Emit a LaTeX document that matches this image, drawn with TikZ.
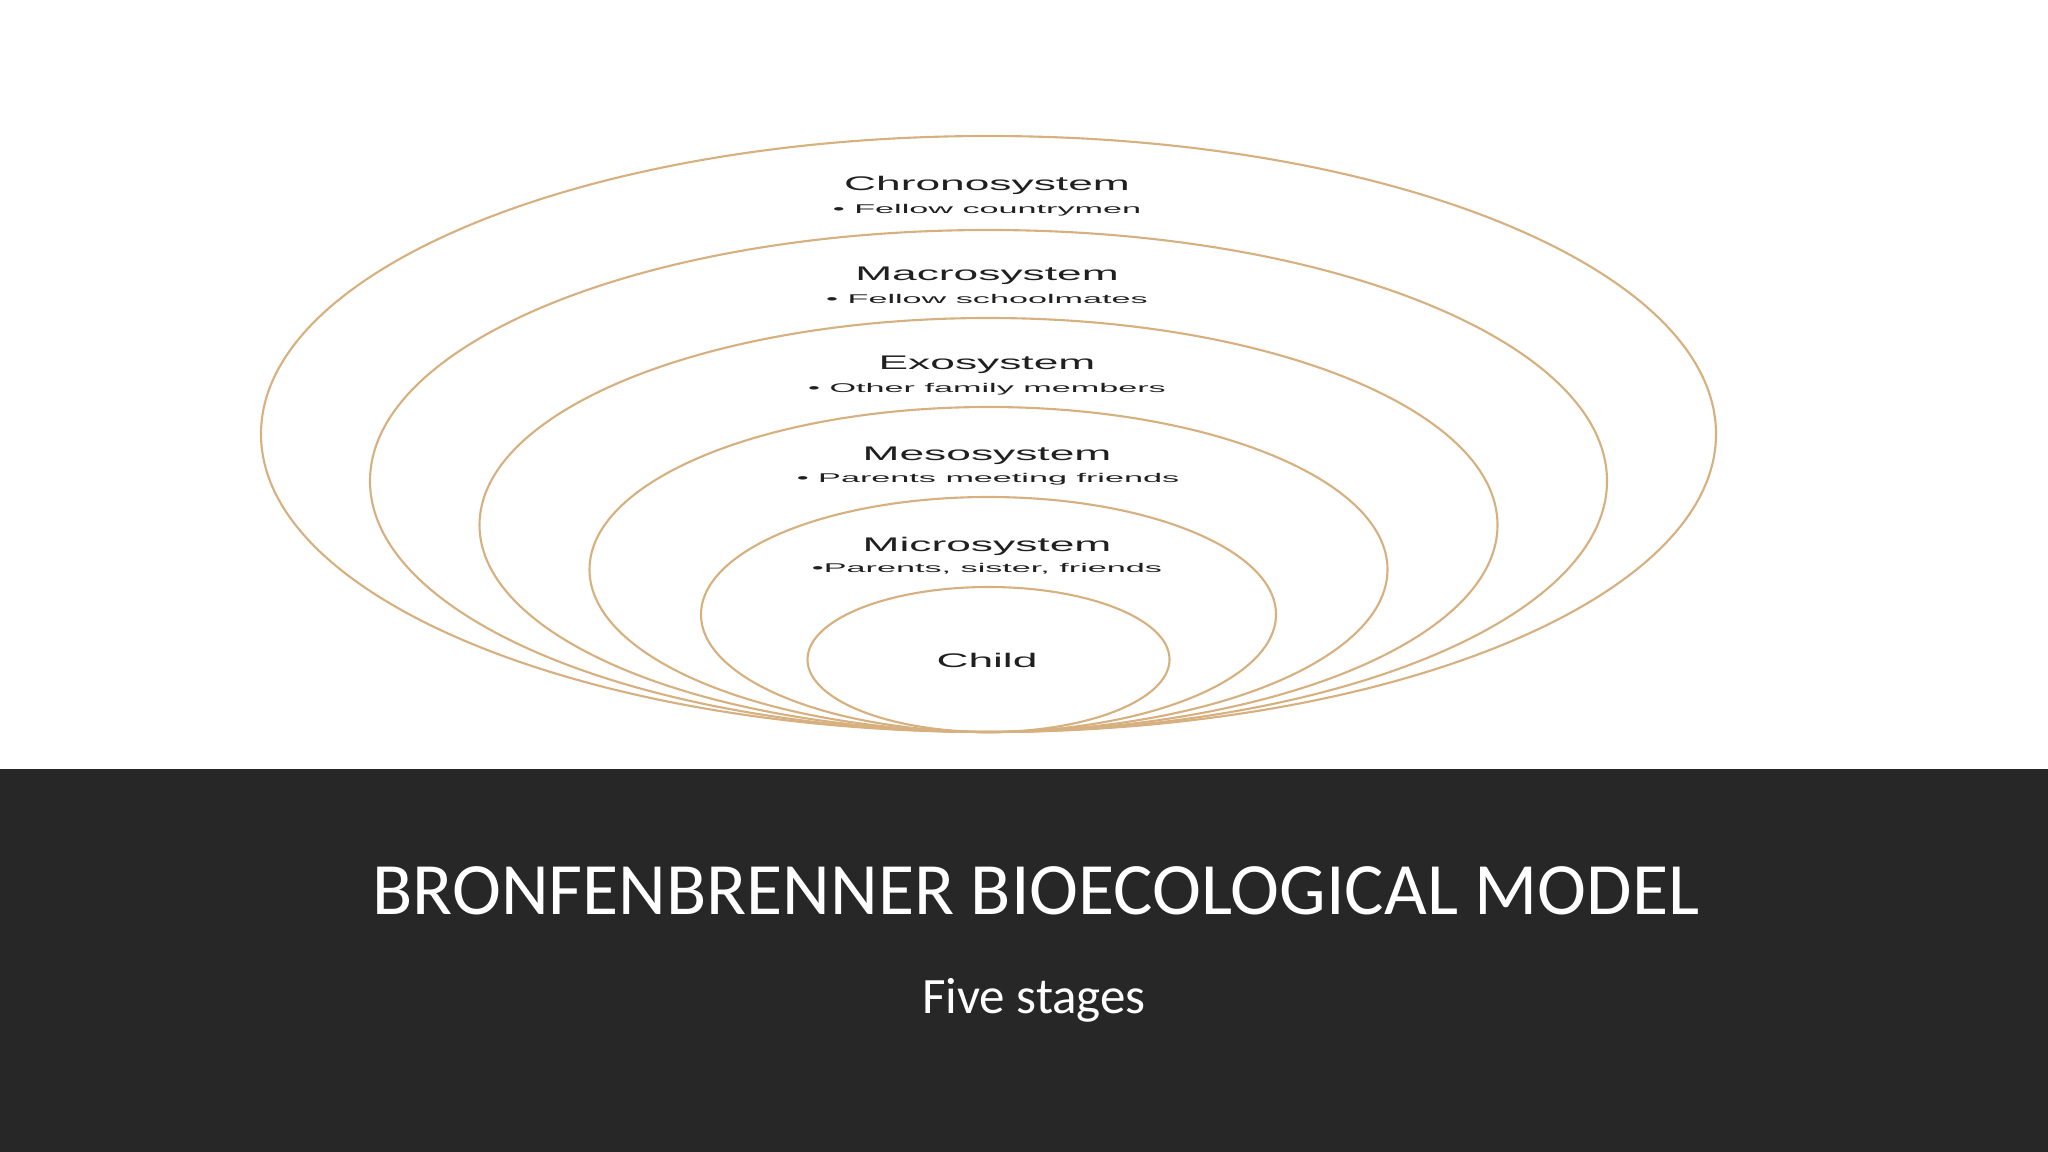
\documentclass[tikz,border=0pt]{standalone}
\usepackage{fontspec}
\newfontfamily\ringfont{Liberation Sans}
\newfontfamily\slidefont{Carlito}
\definecolor{ringline}{RGB}{215,176,128}
\definecolor{ringtext}{RGB}{32,32,32}
\definecolor{slidedark}{RGB}{40,39,40}
\tikzstyle{ring}=[draw=ringline,line width=0.6pt]
\tikzstyle{sysname}=[font=\ringfont\fontsize{5.6}{6}\selectfont,text=ringtext,xscale=2.25,inner sep=0pt,anchor=base]
\tikzstyle{sysnote}=[font=\ringfont\fontsize{3.6}{4}\selectfont,text=ringtext,xscale=2.7,inner sep=0pt,anchor=base]
\tikzstyle{heading}=[font=\slidefont\fontsize{21}{25}\selectfont,text=white,inner sep=0pt,anchor=base]
\tikzstyle{subheading}=[font=\slidefont\fontsize{14.5}{17}\selectfont,text=white,inner sep=0pt,anchor=base]

\begin{document}
\begin{tikzpicture}[x=0.01cm,y=-0.01cm]
    \useasboundingbox (0,0) rectangle (2048,1152);
    \fill[white] (0,0) rectangle (2048,769);
    \fill[slidedark] (0,769) rectangle (2048,1152);

    % rings, all touching at the bottom
    \foreach \rx/\ry in {727.5/298, 618.5/251, 509/207, 399/162.5, 287.5/117.5, 181/72.5}
        \draw[ring] (988.5,{732-\ry}) ellipse [x radius=\rx, y radius=\ry];

    \foreach \pos/\name/\txt in {{(987,191)/chrono/Chronosystem}, {(987,281)/macro/Macrosystem},
                                 {(987,370)/exo/Exosystem}, {(987,461)/meso/Mesosystem},
                                 {(987,551)/micro/Microsystem}, {(987,667)/child/Child}}
        \node[sysname] (\name) at \pos {\txt};
    \foreach \pos/\name/\txt in {{(987,214)/chrononote/{• Fellow countrymen}},
                                 {(987,304)/macronote/{• Fellow schoolmates}},
                                 {(987,393)/exonote/{• Other family members}},
                                 {(988,483)/mesonote/{• Parents meeting friends}},
                                 {(987,573)/micronote/{•Parents, sister, friends}}}
        \node[sysnote] (\name) at \pos {\txt};

    \node[heading] (title) at (1036,914) {BRONFENBRENNER BIOECOLOGICAL MODEL};
    \node[subheading] (subtitle) at (1034,1013) {Five stages};
\end{tikzpicture}
\end{document}
